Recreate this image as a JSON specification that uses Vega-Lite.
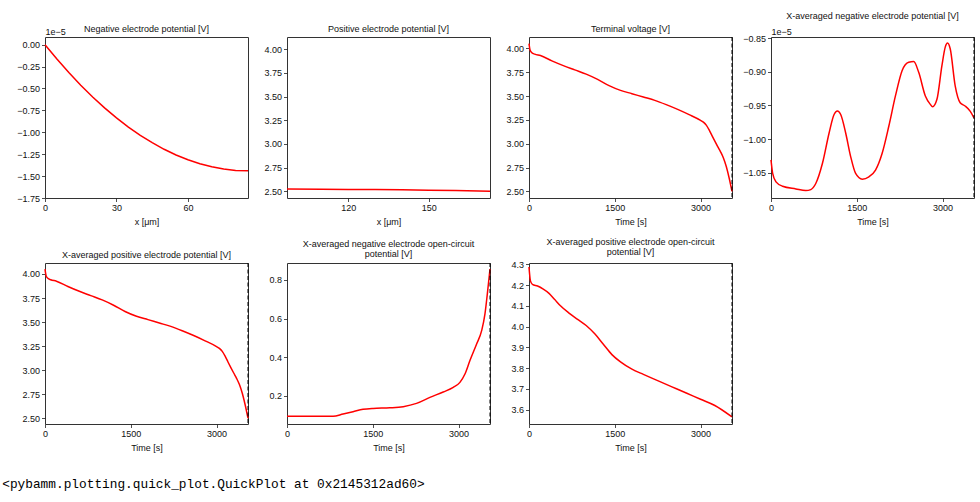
{
  "$schema": "https://vega.github.io/schema/vega-lite/v6.json",
  "background": "white",
  "padding": {"left": 2, "top": 11, "right": 5, "bottom": 5},
  "autosize": {"type": "pad"},
  "title": {"text": "<pybamm.plotting.quick_plot.QuickPlot at 0x2145312ad60>", "orient": "bottom", "anchor": "start", "frame": "bounds", "font": "Liberation Mono", "fontSize": 12.8, "fontWeight": "normal", "color": "#000000", "offset": 25, "dx": -14},
  "datasets": {
    "neg_phi": [
      {"x": 0, "v": 0}, {"x": 5, "v": -0.164}, {"x": 10, "v": -0.318}, {"x": 15, "v": -0.463}, {"x": 20, "v": -0.597},
      {"x": 25, "v": -0.721}, {"x": 30, "v": -0.836}, {"x": 35, "v": -0.94}, {"x": 40, "v": -1.035}, {"x": 45, "v": -1.119},
      {"x": 50, "v": -1.194}, {"x": 55, "v": -1.259}, {"x": 60, "v": -1.314}, {"x": 65, "v": -1.359}, {"x": 70, "v": -1.394},
      {"x": 75, "v": -1.419}, {"x": 80, "v": -1.435}, {"x": 85.2, "v": -1.44}
    ],
    "pos_phi": [
      {"x": 97.2, "v": 2.522}, {"x": 110, "v": 2.521}, {"x": 120, "v": 2.519}, {"x": 130, "v": 2.517},
      {"x": 140, "v": 2.514}, {"x": 150, "v": 2.51}, {"x": 160, "v": 2.506}, {"x": 172.8, "v": 2.499}
    ],
    "vterm": [
      {"t": 0, "v": 4.05}, {"t": 20, "v": 3.98}, {"t": 50, "v": 3.955}, {"t": 100, "v": 3.94}, {"t": 200, "v": 3.925},
      {"t": 400, "v": 3.87}, {"t": 600, "v": 3.82}, {"t": 800, "v": 3.775}, {"t": 1000, "v": 3.73}, {"t": 1200, "v": 3.675},
      {"t": 1400, "v": 3.61}, {"t": 1600, "v": 3.56}, {"t": 1800, "v": 3.525}, {"t": 2000, "v": 3.49}, {"t": 2200, "v": 3.455},
      {"t": 2400, "v": 3.41}, {"t": 2600, "v": 3.36}, {"t": 2800, "v": 3.305}, {"t": 3000, "v": 3.245}, {"t": 3050, "v": 3.226},
      {"t": 3100, "v": 3.195}, {"t": 3150, "v": 3.145}, {"t": 3200, "v": 3.085}, {"t": 3250, "v": 3.027}, {"t": 3300, "v": 2.97},
      {"t": 3350, "v": 2.915}, {"t": 3400, "v": 2.85}, {"t": 3450, "v": 2.76}, {"t": 3500, "v": 2.64}, {"t": 3550, "v": 2.5}
    ],
    "xneg": [
      {"t": 0, "v": -1.031}, {"t": 29, "v": -1.051}, {"t": 87, "v": -1.0635}, {"t": 203, "v": -1.07}, {"t": 435, "v": -1.074},
      {"t": 609, "v": -1.0765}, {"t": 696, "v": -1.075}, {"t": 783, "v": -1.066}, {"t": 900, "v": -1.036}, {"t": 1016, "v": -0.991},
      {"t": 1103, "v": -0.9635}, {"t": 1161, "v": -0.9585}, {"t": 1219, "v": -0.9635}, {"t": 1306, "v": -0.991}, {"t": 1393, "v": -1.026},
      {"t": 1480, "v": -1.051}, {"t": 1596, "v": -1.0595}, {"t": 1712, "v": -1.056}, {"t": 1828, "v": -1.046}, {"t": 1944, "v": -1.021},
      {"t": 2060, "v": -0.981}, {"t": 2176, "v": -0.936}, {"t": 2292, "v": -0.8985}, {"t": 2408, "v": -0.886}, {"t": 2496, "v": -0.885},
      {"t": 2583, "v": -0.901}, {"t": 2699, "v": -0.936}, {"t": 2786, "v": -0.9485}, {"t": 2826, "v": -0.952}, {"t": 2902, "v": -0.941},
      {"t": 2989, "v": -0.891}, {"t": 3047, "v": -0.8635}, {"t": 3087, "v": -0.8575}, {"t": 3134, "v": -0.866}, {"t": 3221, "v": -0.921},
      {"t": 3308, "v": -0.946}, {"t": 3395, "v": -0.951}, {"t": 3482, "v": -0.9585}, {"t": 3550, "v": -0.9685}
    ],
    "ocp_neg": [
      {"t": 0, "v": 0.0928}, {"t": 400, "v": 0.093}, {"t": 806, "v": 0.093}, {"t": 981, "v": 0.105}, {"t": 1156, "v": 0.117},
      {"t": 1331, "v": 0.129}, {"t": 1506, "v": 0.134}, {"t": 1798, "v": 0.137}, {"t": 2032, "v": 0.143}, {"t": 2265, "v": 0.16},
      {"t": 2499, "v": 0.191}, {"t": 2732, "v": 0.219}, {"t": 2907, "v": 0.243}, {"t": 3024, "v": 0.269}, {"t": 3112, "v": 0.312},
      {"t": 3199, "v": 0.382}, {"t": 3316, "v": 0.468}, {"t": 3404, "v": 0.537}, {"t": 3462, "v": 0.624}, {"t": 3503, "v": 0.727},
      {"t": 3550, "v": 0.857}
    ],
    "ocp_pos": [
      {"t": 0, "v": 4.287}, {"t": 25, "v": 4.22}, {"t": 60, "v": 4.203}, {"t": 150, "v": 4.195}, {"t": 250, "v": 4.18},
      {"t": 350, "v": 4.16}, {"t": 450, "v": 4.13}, {"t": 550, "v": 4.1}, {"t": 700, "v": 4.065}, {"t": 850, "v": 4.035},
      {"t": 1000, "v": 4.005}, {"t": 1150, "v": 3.965}, {"t": 1300, "v": 3.915}, {"t": 1450, "v": 3.865}, {"t": 1600, "v": 3.83},
      {"t": 1800, "v": 3.795}, {"t": 2000, "v": 3.77}, {"t": 2250, "v": 3.74}, {"t": 2500, "v": 3.71}, {"t": 2750, "v": 3.68},
      {"t": 3000, "v": 3.65}, {"t": 3250, "v": 3.62}, {"t": 3550, "v": 3.565}
    ],
    "tend": [{"t": 3550}]
  },
  "columns": 4,
  "spacing": {"row": 65, "column": 39},
  "bounds": "flush",
  "concat": [
    {
      "width": 203, "height": 161,
      "title": {"text": "Negative electrode potential [V]", "offset": -7},
      "data": {"name": "neg_phi"},
      "mark": {"type": "line", "color": "#ff0000", "strokeWidth": 1.5},
      "encoding": {
        "x": {"field": "x", "type": "quantitative", "scale": {"domain": [0, 85.2], "nice": false, "zero": false}, "axis": {"values": [0, 30, 60], "title": "x [μm]"}},
        "y": {"field": "v", "type": "quantitative", "scale": {"domain": [-1.75, 0.0875], "nice": false, "zero": false}, "axis": {"values": [0, -0.25, -0.5, -0.75, -1, -1.25, -1.5, -1.75], "format": ".2f", "title": "1e−5", "titleAngle": 0, "titleX": 0, "titleY": -3, "titleAlign": "left", "titleBaseline": "alphabetic"}}
      }
    },
    {
      "width": 203, "height": 161,
      "title": {"text": "Positive electrode potential [V]"},
      "data": {"name": "pos_phi"},
      "mark": {"type": "line", "color": "#ff0000", "strokeWidth": 1.5},
      "encoding": {
        "x": {"field": "x", "type": "quantitative", "scale": {"domain": [97.2, 172.8], "nice": false, "zero": false}, "axis": {"values": [120, 150], "title": "x [μm]"}},
        "y": {"field": "v", "type": "quantitative", "scale": {"domain": [2.428, 4.13], "nice": false, "zero": false}, "axis": {"values": [2.5, 2.75, 3, 3.25, 3.5, 3.75, 4], "format": ".2f", "title": null}}
      }
    },
    {
      "width": 203, "height": 161,
      "title": {"text": "Terminal voltage [V]"},
      "layer": [
        {
          "data": {"name": "vterm"},
          "mark": {"type": "line", "color": "#ff0000", "strokeWidth": 1.5, "interpolate": "monotone"},
          "encoding": {
            "x": {"field": "t", "type": "quantitative", "scale": {"domain": [0, 3550], "nice": false, "zero": false}, "axis": {"values": [0, 1500, 3000], "format": "d", "title": "Time [s]"}},
            "y": {"field": "v", "type": "quantitative", "scale": {"domain": [2.43, 4.12], "nice": false, "zero": false}, "axis": {"values": [2.5, 2.75, 3, 3.25, 3.5, 3.75, 4], "format": ".2f", "title": null}}
          }
        },
        {
          "data": {"name": "tend"},
          "mark": {"type": "rule", "color": "#000000", "strokeWidth": 1, "strokeDash": [4, 2.5]},
          "encoding": {"x": {"field": "t", "type": "quantitative"}}
        }
      ]
    },
    {
      "width": 203, "height": 161,
      "title": {"text": "X-averaged negative electrode potential [V]", "offset": 6},
      "layer": [
        {
          "data": {"name": "xneg"},
          "mark": {"type": "line", "color": "#ff0000", "strokeWidth": 1.5, "interpolate": "monotone"},
          "encoding": {
            "x": {"field": "t", "type": "quantitative", "scale": {"domain": [0, 3550], "nice": false, "zero": false}, "axis": {"values": [0, 1500, 3000], "format": "d", "title": "Time [s]"}},
            "y": {"field": "v", "type": "quantitative", "scale": {"domain": [-1.0875, -0.8485], "nice": false, "zero": false}, "axis": {"values": [-0.85, -0.9, -0.95, -1, -1.05], "format": ".2f", "title": "1e−5", "titleAngle": 0, "titleX": 0, "titleY": -3, "titleAlign": "left", "titleBaseline": "alphabetic"}}
          }
        },
        {
          "data": {"name": "tend"},
          "mark": {"type": "rule", "color": "#000000", "strokeWidth": 1, "strokeDash": [4, 2.5]},
          "encoding": {"x": {"field": "t", "type": "quantitative"}}
        }
      ]
    },
    {
      "width": 203, "height": 161,
      "title": {"text": "X-averaged positive electrode potential [V]"},
      "layer": [
        {
          "data": {"name": "vterm"},
          "mark": {"type": "line", "color": "#ff0000", "strokeWidth": 1.5, "interpolate": "monotone"},
          "encoding": {
            "x": {"field": "t", "type": "quantitative", "scale": {"domain": [0, 3550], "nice": false, "zero": false}, "axis": {"values": [0, 1500, 3000], "format": "d", "title": "Time [s]"}},
            "y": {"field": "v", "type": "quantitative", "scale": {"domain": [2.44, 4.114], "nice": false, "zero": false}, "axis": {"values": [2.5, 2.75, 3, 3.25, 3.5, 3.75, 4], "format": ".2f", "title": null}}
          }
        },
        {
          "data": {"name": "tend"},
          "mark": {"type": "rule", "color": "#000000", "strokeWidth": 1, "strokeDash": [4, 2.5]},
          "encoding": {"x": {"field": "t", "type": "quantitative"}}
        }
      ]
    },
    {
      "width": 203, "height": 161,
      "title": {"text": ["X-averaged negative electrode open-circuit", "potential [V]"], "lineHeight": 10.7},
      "layer": [
        {
          "data": {"name": "ocp_neg"},
          "mark": {"type": "line", "color": "#ff0000", "strokeWidth": 1.5, "interpolate": "monotone"},
          "encoding": {
            "x": {"field": "t", "type": "quantitative", "scale": {"domain": [0, 3550], "nice": false, "zero": false}, "axis": {"values": [0, 1500, 3000], "format": "d", "title": "Time [s]"}},
            "y": {"field": "v", "type": "quantitative", "scale": {"domain": [0.053, 0.888], "nice": false, "zero": false}, "axis": {"values": [0.2, 0.4, 0.6, 0.8], "format": ".1f", "title": null}}
          }
        },
        {
          "data": {"name": "tend"},
          "mark": {"type": "rule", "color": "#000000", "strokeWidth": 1, "strokeDash": [4, 2.5]},
          "encoding": {"x": {"field": "t", "type": "quantitative"}}
        }
      ]
    },
    {
      "width": 203, "height": 161,
      "title": {"text": ["X-averaged positive electrode open-circuit", "potential [V]"], "lineHeight": 10.7},
      "layer": [
        {
          "data": {"name": "ocp_pos"},
          "mark": {"type": "line", "color": "#ff0000", "strokeWidth": 1.5, "interpolate": "monotone"},
          "encoding": {
            "x": {"field": "t", "type": "quantitative", "scale": {"domain": [0, 3550], "nice": false, "zero": false}, "axis": {"values": [0, 1500, 3000], "format": "d", "title": "Time [s]"}},
            "y": {"field": "v", "type": "quantitative", "scale": {"domain": [3.531, 4.306], "nice": false, "zero": false}, "axis": {"values": [3.6, 3.7, 3.8, 3.9, 4.0, 4.1, 4.2, 4.3], "format": ".1f", "title": null}}
          }
        },
        {
          "data": {"name": "tend"},
          "mark": {"type": "rule", "color": "#000000", "strokeWidth": 1, "strokeDash": [4, 2.5]},
          "encoding": {"x": {"field": "t", "type": "quantitative"}}
        }
      ]
    }
  ],
  "config": {
    "view": {"stroke": "#333333", "strokeWidth": 1},
    "font": "Liberation Sans",
    "axis": {"grid": false, "domain": false, "tickSize": 3.5, "tickColor": "#222222", "tickWidth": 0.8, "labelFontSize": 9, "labelColor": "#111111", "labelFont": "Liberation Sans", "labelPadding": 2, "labelFlush": false, "labelOverlap": false, "titleFontSize": 9, "titleFontWeight": "normal", "titleColor": "#111111", "titleFont": "Liberation Sans", "titlePadding": 5},
    "title": {"fontSize": 9, "fontWeight": "normal", "color": "#111111", "font": "Liberation Sans", "offset": 3}
  }
}
